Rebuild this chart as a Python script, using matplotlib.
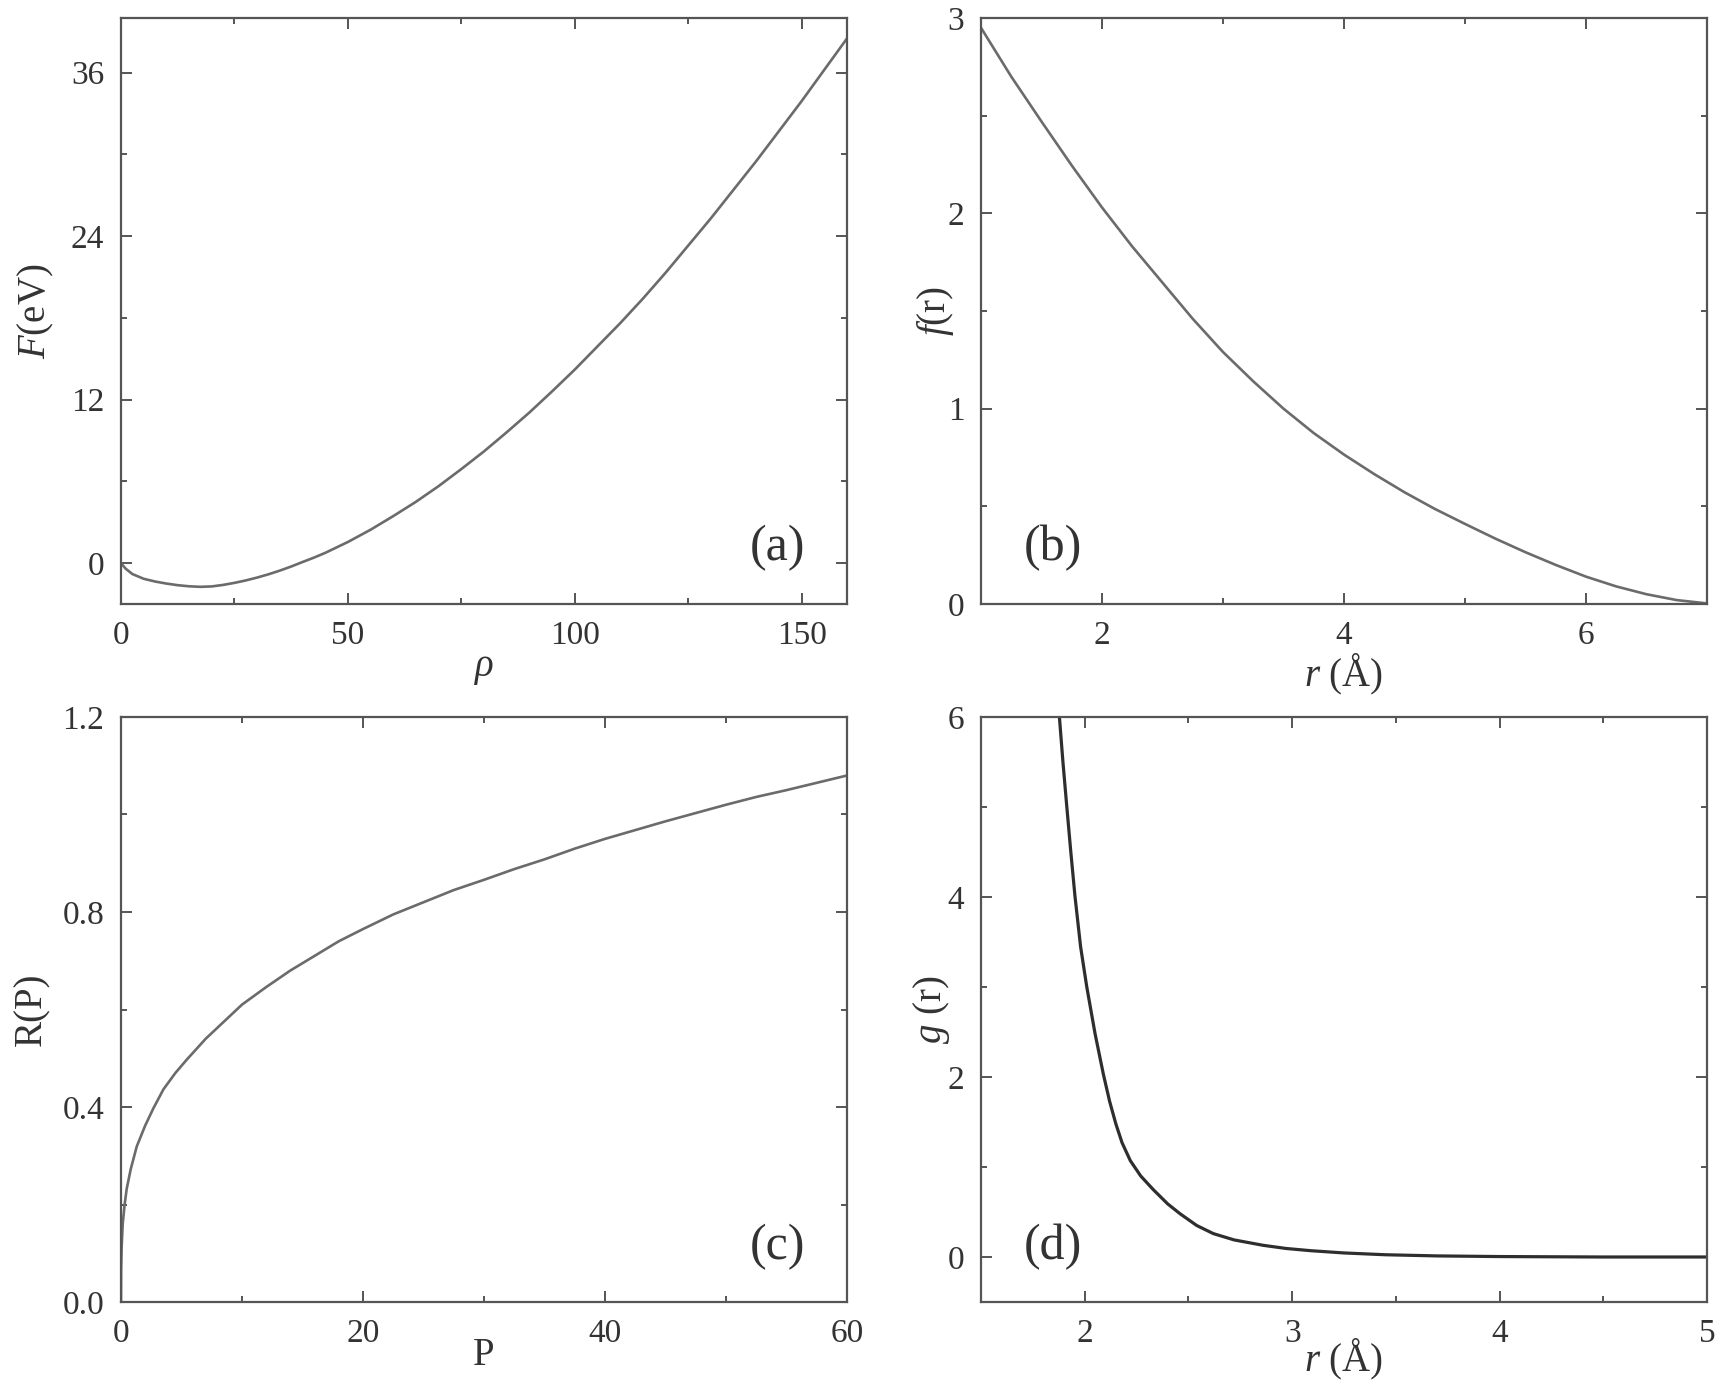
import numpy as np
import matplotlib
matplotlib.use("Agg")
import matplotlib.pyplot as plt
from matplotlib.ticker import MultipleLocator

plt.rcParams['font.family'] = ['Liberation Serif', 'DejaVu Serif']
plt.rcParams['mathtext.fontset'] = 'custom'
plt.rcParams['mathtext.rm'] = 'Liberation Serif'
plt.rcParams['mathtext.it'] = 'Liberation Serif:italic'

# (a) embedding energy F(rho)
rho = [0, 1, 2.5, 5, 7.5, 10, 12.5, 15, 17.5, 20, 22.5, 25, 27.5, 30, 32.5,
       35, 37.5, 40, 42.5, 45, 47.5, 50, 55, 60, 65, 70, 75, 80, 85, 90, 95,
       100, 105, 110, 115, 120, 125, 130, 135, 140, 145, 150, 155, 160]
F_rho = [0, -0.4, -0.8, -1.15, -1.35, -1.5, -1.62, -1.7, -1.74, -1.71, -1.6,
         -1.45, -1.27, -1.06, -0.82, -0.55, -0.25, 0.08, 0.4, 0.75, 1.15,
         1.55, 2.45, 3.45, 4.5, 5.65, 6.9, 8.2, 9.6, 11.05, 12.6, 14.2, 15.9,
         17.6, 19.4, 21.3, 23.3, 25.3, 27.4, 29.5, 31.7, 33.9, 36.2, 38.5]

# (b) f(r)
r_b = [1.0, 1.25, 1.5, 1.75, 2.0, 2.25, 2.5, 2.75, 3.0, 3.25, 3.5, 3.75, 4.0,
       4.25, 4.5, 4.75, 5.0, 5.25, 5.5, 5.75, 6.0, 6.25, 6.5, 6.75, 7.0]
f_r = [2.95, 2.70, 2.47, 2.245, 2.03, 1.83, 1.645, 1.46, 1.29, 1.14, 1.0,
       0.875, 0.765, 0.665, 0.572, 0.487, 0.41, 0.335, 0.265, 0.2, 0.14,
       0.09, 0.05, 0.02, 0.003]

# (c) R(P)
P = [0, 0.01, 0.05, 0.14, 0.3, 0.47, 0.8, 1.3, 2.0, 2.67, 3.5, 4.5, 5.43, 7,
     8.5, 10, 12, 14, 16, 18, 20, 22.5, 25, 27.5, 30, 32.5, 35, 37.5, 40,
     42.5, 45, 47.5, 50, 52.5, 55, 57.5, 60]
R_P = [0, 0.065, 0.11, 0.16, 0.2, 0.232, 0.272, 0.319, 0.362, 0.397, 0.436,
       0.47, 0.497, 0.54, 0.575, 0.61, 0.646, 0.68, 0.71, 0.74, 0.765, 0.795,
       0.82, 0.845, 0.866, 0.888, 0.908, 0.93, 0.95, 0.968, 0.986, 1.003,
       1.02, 1.036, 1.05, 1.065, 1.08]

# (d) g(r)
r_d = [1.878, 1.895, 1.913, 1.933, 1.953, 1.98, 2.01, 2.05, 2.09, 2.12, 2.15,
       2.18, 2.22, 2.27, 2.33, 2.4, 2.46, 2.54, 2.62, 2.72, 2.86, 2.97, 3.09,
       3.25, 3.45, 3.7, 4.0, 4.5, 5.0]
g_r = [6.0, 5.5, 5.02, 4.5, 4.01, 3.45, 3.0, 2.48, 2.03, 1.73, 1.48, 1.27,
       1.07, 0.9, 0.75, 0.59, 0.48, 0.35, 0.26, 0.19, 0.13, 0.095, 0.07,
       0.045, 0.025, 0.012, 0.005, 0.0, 0.0]

W, H = 1720, 1385
fig = plt.figure(figsize=(W / 100, H / 100), dpi=100)

def box(l, t, r, b):
    return [l / W, 1 - b / H, (r - l) / W, (b - t) / H]

ax_a = fig.add_axes(box(121, 18, 847, 604))
ax_b = fig.add_axes(box(981, 18, 1707, 604))
ax_c = fig.add_axes(box(121, 717, 847, 1302))
ax_d = fig.add_axes(box(981, 717, 1707, 1302))

line_col = '#6b6b6b'
frame_col = '#555555'
text_col = '#333333'

ax_a.plot(rho, F_rho, color=line_col, lw=1.9)
ax_b.plot(r_b, f_r, color=line_col, lw=1.9)
ax_c.plot(P, R_P, color=line_col, lw=1.9)
ax_d.plot(r_d, g_r, color='#2e2e2e', lw=2.3)

ax_a.set_xlim(0, 160); ax_a.set_ylim(-3, 40)
ax_a.xaxis.set_major_locator(MultipleLocator(50)); ax_a.xaxis.set_minor_locator(MultipleLocator(25))
ax_a.yaxis.set_major_locator(MultipleLocator(12)); ax_a.yaxis.set_minor_locator(MultipleLocator(6))

ax_b.set_xlim(1, 7); ax_b.set_ylim(0, 3)
ax_b.xaxis.set_major_locator(MultipleLocator(2)); ax_b.xaxis.set_minor_locator(MultipleLocator(1))
ax_b.yaxis.set_major_locator(MultipleLocator(1)); ax_b.yaxis.set_minor_locator(MultipleLocator(0.5))

ax_c.set_xlim(0, 60); ax_c.set_ylim(0, 1.2)
ax_c.xaxis.set_major_locator(MultipleLocator(20)); ax_c.xaxis.set_minor_locator(MultipleLocator(10))
ax_c.yaxis.set_major_locator(MultipleLocator(0.4)); ax_c.yaxis.set_minor_locator(MultipleLocator(0.2))
ax_c.yaxis.set_major_formatter(lambda v, p: f"{v:.1f}")

ax_d.set_xlim(1.5, 5); ax_d.set_ylim(-0.5, 6)
ax_d.xaxis.set_major_locator(MultipleLocator(1)); ax_d.xaxis.set_minor_locator(MultipleLocator(0.5))
ax_d.yaxis.set_major_locator(MultipleLocator(2)); ax_d.yaxis.set_minor_locator(MultipleLocator(1))

for ax in (ax_a, ax_b, ax_c, ax_d):
    for s in ax.spines.values():
        s.set_color(frame_col)
        s.set_linewidth(1.6)
    ax.tick_params(which='both', direction='in', top=True, right=True,
                   color=frame_col, width=1.4, labelsize=24, labelcolor=text_col, pad=12)
    ax.tick_params(which='major', length=8)
    ax.tick_params(which='minor', length=4.5)

lab = dict(fontsize=28, color=text_col)
ax_a.set_xlabel('ρ', fontstyle='italic', **lab)
ax_a.set_ylabel(r'$F$(eV)', **lab)
ax_b.set_xlabel(r'$r$ (Å)', **lab)
ax_b.set_ylabel(r'$f$(r)', **lab)
ax_c.set_xlabel('P', **lab)
ax_c.set_ylabel('R(P)', **lab)
ax_d.set_xlabel(r'$r$ (Å)', **lab)
ax_d.set_ylabel(r'$g$ (r)', **lab)

ax_a.yaxis.set_label_coords(-0.09, 0.5)
ax_b.yaxis.set_label_coords(-0.035, 0.5)
ax_c.yaxis.set_label_coords(-0.097, 0.5)
ax_d.yaxis.set_label_coords(-0.04, 0.5)
ax_a.xaxis.set_label_coords(0.5, -0.075)
ax_b.xaxis.set_label_coords(0.5, -0.082)
ax_c.xaxis.set_label_coords(0.5, -0.06)
ax_d.xaxis.set_label_coords(0.5, -0.06)

tags = [(ax_a, 0.904, '(a)'), (ax_b, 0.099, '(b)'), (ax_c, 0.904, '(c)'), (ax_d, 0.099, '(d)')]
for ax, x, t in tags:
    ax.text(x, 0.095, t, transform=ax.transAxes, ha='center', va='center',
            fontsize=36, color=text_col)

fig.savefig('out.png', dpi=100)
